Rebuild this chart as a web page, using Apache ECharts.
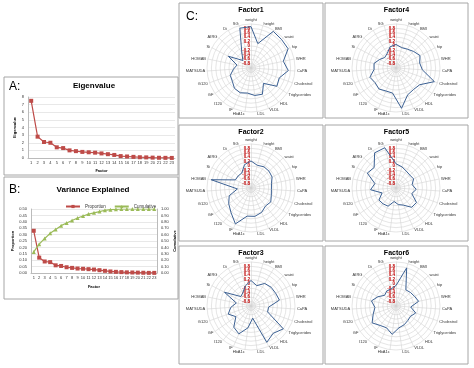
<!DOCTYPE html>
<html><head><meta charset="utf-8">
<script src="https://cdn.jsdelivr.net/npm/echarts@6/dist/echarts.min.js"></script>
<style>html,body{margin:0;padding:0;background:#fff}#c{width:474px;height:368px}</style>
</head><body><div id="c"></div>
<script>
var factors = ['1','2','3','4','5','6','7','8','9','10','11','12','13','14','15','16','17','18','19','20','21','22','23'];
var eigenvalues = [7.5,2.8,2.1,2.0,1.4,1.3,1.0,0.9,0.8,0.75,0.7,0.6,0.5,0.4,0.25,0.2,0.15,0.1,0.08,0.05,0.03,0.02,0.01];
var proportion = [0.33,0.12,0.09,0.085,0.06,0.055,0.045,0.04,0.035,0.033,0.03,0.027,0.022,0.017,0.012,0.009,0.007,0.005,0.004,0.003,0.002,0.001,0.001];
var cumulative = [0.33,0.45,0.54,0.62,0.68,0.74,0.78,0.82,0.86,0.89,0.92,0.94,0.96,0.98,0.99,0.995,1,1,1,1,1,1,1];
var eigenTicks = [0,1,2,3,4,5,6,7,8];

var variables = ['weight','height','BMI','waist','hip','WHR','CaPA','Cholestrol','Triglycerides','HDL','VLDL','LDL','HbA1c','IF','I120','GF','G120','MATSUDA','HOMAB','Si','AIRG','Di','SG'];
var factor1 = [0.88,0.15,0.95,0.9,0.9,0.5,0.7,0.36,0.44,-0.1,0.3,0.26,0.15,0.23,0.19,0.04,0.0,-0.2,-0.35,0.16,-0.5,-0.2,0.88];
var factor2 = [0.23,0.07,0.13,0.12,0.08,-0.05,-0.07,-0.02,0.1,0.05,0.21,0.3,0.29,0.78,0.44,0.24,0.05,-0.38,0.85,-0.2,-0.2,-0.2,0.1];
var factor3 = [0.16,-0.04,0.2,0.25,0.26,0.32,-0.2,-0.2,0.8,0.6,0.8,-0.44,0.0,0.38,0.24,-0.16,0.1,-0.08,-0.32,0.36,-0.37,-0.29,-0.05];
var factor4 = [0.07,-0.04,0.0,0.1,0.23,0.1,0.2,0.85,0.32,0.26,0.33,0.85,0.15,0.14,0.23,0.16,0.26,0.0,0.02,-0.16,-0.3,-0.23,0.0];
var factor5 = [0.1,0.0,-0.1,-0.14,-0.1,-0.25,-0.08,-0.24,0.14,0.13,-0.15,-0.24,-0.38,-0.1,-0.07,-0.05,-0.33,0.16,-0.02,0.47,0.36,0.87,0.9];
var factor6 = [-0.07,0.8,-0.14,-0.1,-0.05,0.05,-0.33,-0.05,-0.19,-0.15,-0.07,0.0,0.3,0.08,0.14,0.33,0.1,-0.04,0.14,-0.08,-0.29,-0.2,-0.19];

var panels = [
  {name:'Factor1', data:factor1, cx:251, cy:68, top:3, bottom:118, left:179, right:323},
  {name:'Factor2', data:factor2, cx:251, cy:188, top:125, bottom:241, left:179, right:323},
  {name:'Factor3', data:factor3, cx:251, cy:306, top:246, bottom:364, left:179, right:323},
  {name:'Factor4', data:factor4, cx:396, cy:68, top:3, bottom:118, left:325, right:468},
  {name:'Factor5', data:factor5, cx:396, cy:188, top:125, bottom:241, left:325, right:468},
  {name:'Factor6', data:factor6, cx:396, cy:306, top:246, bottom:364, left:325, right:468}
];

function ccw(a){ return [a[0]].concat(a.slice(1).reverse()); }

var FONT = 'Liberation Sans';
var radars = [], series = [], graphics = [], titles = [];
var indNames = ccw(variables);

panels.forEach(function(p, i){
  radars.push({
    center:[p.cx, p.cy], radius:44, shape:'circle', splitNumber:10, startAngle:90,
    nameGap:2,
    axisName:{color:'#333', fontSize:4, fontFamily:FONT},
    splitLine:{lineStyle:{color:'#d4d4d4', width:0.6}},
    splitArea:{show:false},
    axisLine:{lineStyle:{color:'#d4d4d4', width:0.6}},
    axisTick:{show:false},
    axisLabel:{show:false},
    indicator: indNames.map(function(n, k){
      var o = {name:n, min:-1, max:1};
      if (k === 0) o.axisLabel = {show:true, color:'#C00000', fontSize:4.5, fontWeight:'bold', margin:1, fontFamily:FONT};
      return o;
    })
  });
  series.push({
    type:'radar', radarIndex:i, symbol:'none', silent:true,
    lineStyle:{color:'#3A5F92', width:1},
    data:[{value:ccw(p.data), name:p.name}]
  });
  graphics.push({type:'rect', shape:{x:p.left, y:p.top, width:p.right-p.left, height:p.bottom-p.top}, style:{fill:null, stroke:'#a6a6a6', lineWidth:1}});
  graphics.push({type:'text', x:(p.left+p.right)/2, y:p.top+7, style:{text:p.name, font:'bold 7px '+FONT, fill:'#000', textAlign:'center', textVerticalAlign:'middle'}});
});

// panel frames A and B
graphics.push({type:'rect', shape:{x:4, y:77, width:174, height:98}, style:{fill:null, stroke:'#a6a6a6', lineWidth:1}});
graphics.push({type:'rect', shape:{x:4, y:177, width:174, height:122}, style:{fill:null, stroke:'#a6a6a6', lineWidth:1}});
graphics.push({type:'text', x:9, y:87, style:{text:'A:', font:'12px '+FONT, fill:'#000', textVerticalAlign:'middle'}});
graphics.push({type:'text', x:9, y:190, style:{text:'B:', font:'12px '+FONT, fill:'#000', textVerticalAlign:'middle'}});
graphics.push({type:'text', x:186, y:17, style:{text:'C:', font:'12px '+FONT, fill:'#000', textVerticalAlign:'middle'}});
graphics.push({type:'text', x:94, y:86, style:{text:'Eigenvalue', font:'bold 8px '+FONT, fill:'#000', textAlign:'center', textVerticalAlign:'middle'}});
graphics.push({type:'text', x:93, y:190, style:{text:'Variance Explained', font:'bold 8px '+FONT, fill:'#000', textAlign:'center', textVerticalAlign:'middle'}});

var small = {fontSize:4, color:'#333', fontFamily:FONT};
var nameSt = {fontSize:4, color:'#000', fontWeight:'bold', fontFamily:FONT};
var splitL = {show:true, lineStyle:{color:'#d9d9d9', width:0.6}};

var option = {
  animation:false,
  textStyle:{fontFamily:FONT},
  graphic:graphics,
  legend:{
    top:199, left:'center', right:null, itemWidth:14, itemHeight:4, itemGap:8,
    textStyle:{fontSize:4.5, color:'#333'}, 
    data:['Proportion','Cumulative'],
    left:60
  },
  grid:[
    {left:28, top:97, width:147, height:61},
    {left:31, top:209, width:126, height:64}
  ],
  xAxis:[
    {type:'category', gridIndex:0, data:factors, boundaryGap:true,
     axisLabel:Object.assign({interval:0, margin:3}, small),
     axisTick:{show:false}, axisLine:{lineStyle:{color:'#bbb'}},
     name:'Factor', nameLocation:'middle', nameGap:11, nameTextStyle:nameSt},
    {type:'category', gridIndex:1, data:factors, boundaryGap:true,
     axisLabel:Object.assign({interval:0, margin:3}, small),
     axisTick:{show:false}, axisLine:{lineStyle:{color:'#bbb'}},
     name:'Factor', nameLocation:'middle', nameGap:12, nameTextStyle:nameSt}
  ],
  yAxis:[
    {type:'value', gridIndex:0, min:eigenTicks[0], max:eigenTicks[eigenTicks.length-1], interval:1,
     axisLabel:Object.assign({margin:4}, small), splitLine:splitL,
     axisLine:{show:true, lineStyle:{color:'#bbb'}},
     name:'Eigenvalue', nameLocation:'middle', nameGap:11, nameRotate:90, nameTextStyle:nameSt},
    {type:'value', gridIndex:1, min:0, max:0.5, interval:0.05,
     axisLabel:Object.assign({margin:4, formatter:function(v){return v.toFixed(2);}}, small), splitLine:splitL,
     axisLine:{show:true, lineStyle:{color:'#bbb'}},
     name:'Proportion', nameLocation:'middle', nameGap:15, nameRotate:90, nameTextStyle:nameSt},
    {type:'value', gridIndex:1, min:0, max:1, interval:0.1, position:'right',
     axisLabel:Object.assign({margin:4, formatter:function(v){return v.toFixed(2);}}, small), splitLine:{show:false},
     axisLine:{show:true, lineStyle:{color:'#bbb'}},
     name:'Cumulative', nameLocation:'middle', nameGap:15, nameRotate:90, nameTextStyle:nameSt}
  ],
  radar:radars,
  series:[
    {type:'line', xAxisIndex:0, yAxisIndex:0, data:eigenvalues, symbol:'rect', symbolSize:4,
     itemStyle:{color:'#BE4B48'}, lineStyle:{color:'#BE4B48', width:1.2}},
    {type:'line', name:'Proportion', xAxisIndex:1, yAxisIndex:1, data:proportion, symbol:'rect', symbolSize:4,
     itemStyle:{color:'#BE4B48'}, lineStyle:{color:'#BE4B48', width:1.2}},
    {type:'line', name:'Cumulative', xAxisIndex:1, yAxisIndex:2, data:cumulative, symbol:'triangle', symbolSize:4,
     itemStyle:{color:'#9BBB59'}, lineStyle:{color:'#9BBB59', width:1.2}}
  ].concat(series)
};
var chart = echarts.init(document.getElementById('c'), null, {renderer:'canvas'});
chart.setOption(option);
</script></body></html>
